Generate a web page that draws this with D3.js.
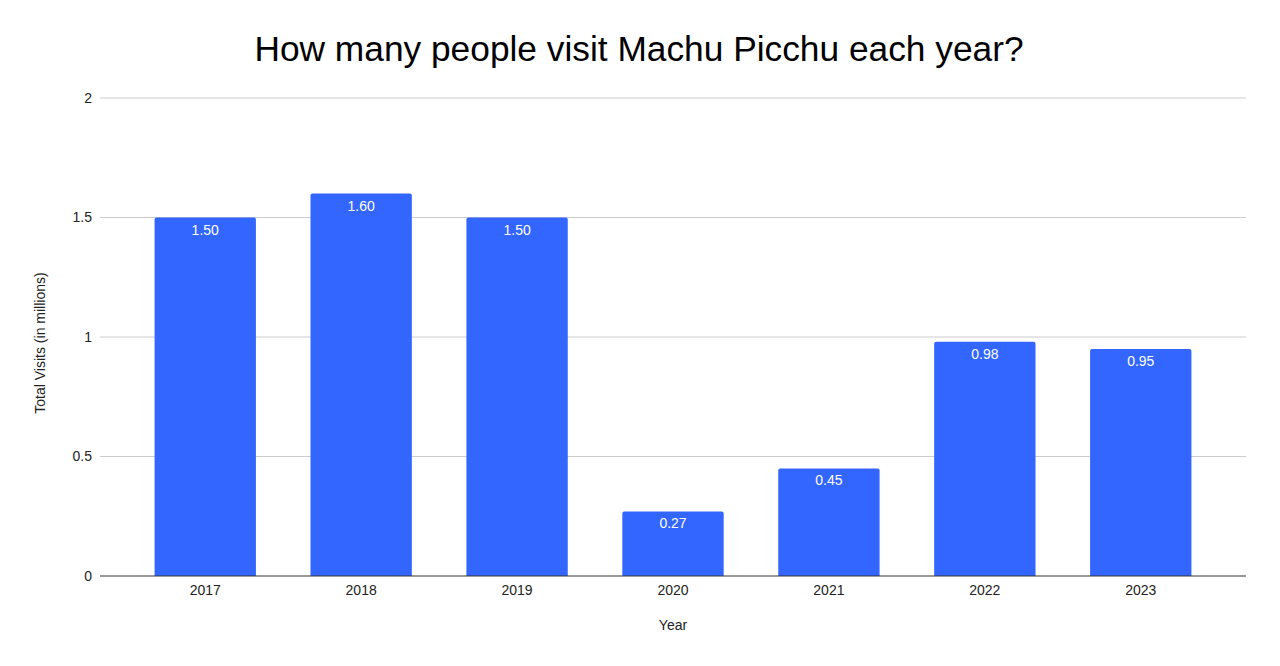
<!DOCTYPE html>
<html>
<head>
<meta charset="utf-8">
<script src="https://cdn.jsdelivr.net/npm/d3@7"></script>
<style>
  body { margin: 0; background: #fff; }
  text { font-family: "Liberation Sans", Arial, sans-serif; }
</style>
</head>
<body>
<script>
// Data
const years = ["2017", "2018", "2019", "2020", "2021", "2022", "2023"];
const visits = [1.50, 1.60, 1.50, 0.27, 0.45, 0.98, 0.95];
const yTicks = [0, 0.5, 1, 1.5, 2];

const W = 1280, H = 666;
const margin = { top: 98, right: 34, bottom: 90, left: 100 };

const svg = d3.select("body").append("svg")
  .attr("width", W)
  .attr("height", H);

const x = d3.scaleBand()
  .domain(years)
  .range([margin.left, W - margin.right])
  .paddingInner(0.35)
  .paddingOuter(0.35);

const y = d3.scaleLinear()
  .domain([0, 2])
  .range([H - margin.bottom, margin.top]);

// Title
svg.append("text")
  .attr("x", 639)
  .attr("y", 61)
  .attr("text-anchor", "middle")
  .style("font-size", "35.3px")
  .style("fill", "#000")
  .text("How many people visit Machu Picchu each year?");

// Gridlines
svg.append("g")
  .selectAll("line")
  .data(yTicks.filter(d => d > 0))
  .join("line")
  .attr("x1", margin.left)
  .attr("x2", W - margin.right)
  .attr("y1", d => y(d))
  .attr("y2", d => y(d))
  .style("stroke", "#cccccc")
  .style("stroke-width", 1);

// Y tick labels
svg.append("g")
  .selectAll("text")
  .data(yTicks)
  .join("text")
  .attr("x", margin.left - 8)
  .attr("y", d => y(d))
  .attr("dy", "0.35em")
  .attr("text-anchor", "end")
  .style("font-size", "14px")
  .style("fill", "#222")
  .text(d => d);

// Bars (slightly rounded top)
const r = 2;
svg.append("g")
  .selectAll("path")
  .data(years.map((d, i) => ({ year: d, v: visits[i] })))
  .join("path")
  .attr("d", d => {
    const x0 = x(d.year), x1 = x0 + x.bandwidth();
    const y0 = y(d.v), yb = y(0);
    return `M${x0},${yb} V${y0 + r} Q${x0},${y0} ${x0 + r},${y0} H${x1 - r} Q${x1},${y0} ${x1},${y0 + r} V${yb} Z`;
  })
  .style("fill", "#3366ff");

// Value labels
svg.append("g")
  .selectAll("text")
  .data(years.map((d, i) => ({ year: d, v: visits[i] })))
  .join("text")
  .attr("x", d => x(d.year) + x.bandwidth() / 2)
  .attr("y", d => y(d.v) + 17)
  .attr("text-anchor", "middle")
  .style("font-size", "14px")
  .style("fill", "#fff")
  .text(d => d.v.toFixed(2));

// X axis baseline
svg.append("line")
  .attr("x1", margin.left)
  .attr("x2", W - margin.right)
  .attr("y1", y(0))
  .attr("y2", y(0))
  .style("stroke", "#333")
  .style("stroke-width", 1);

// X tick labels
svg.append("g")
  .selectAll("text")
  .data(years)
  .join("text")
  .attr("x", d => x(d) + x.bandwidth() / 2)
  .attr("y", y(0) + 19)
  .attr("text-anchor", "middle")
  .style("font-size", "14px")
  .style("fill", "#222")
  .text(d => d);

// Axis titles
svg.append("text")
  .attr("x", 673)
  .attr("y", 630)
  .attr("text-anchor", "middle")
  .style("font-size", "14px")
  .style("fill", "#222")
  .text("Year");

svg.append("text")
  .attr("transform", "translate(45,343) rotate(-90)")
  .attr("text-anchor", "middle")
  .style("font-size", "14px")
  .style("fill", "#222")
  .text("Total Visits (in millions)");
</script>
</body>
</html>
